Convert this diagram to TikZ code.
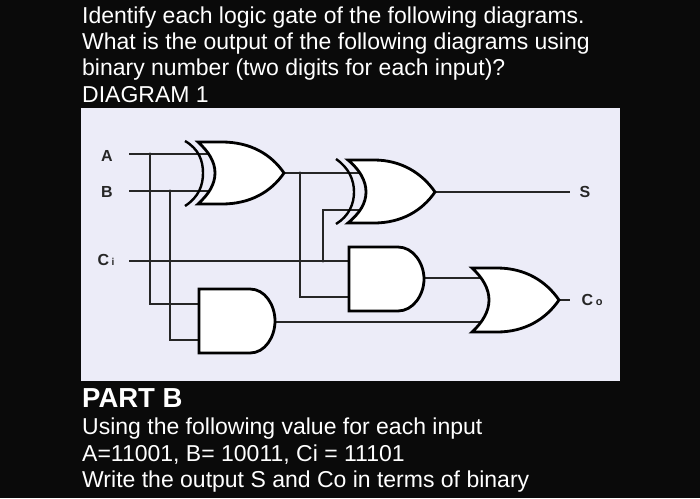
\documentclass[tikz,border=0pt]{standalone}
\usepackage{fontspec}
\setmainfont{Liberation Sans}
\definecolor{panelbg}{RGB}{236,236,248}
\definecolor{pagebg}{RGB}{10,10,10}
\begin{document}
\begin{tikzpicture}[x=1pt,y=-1pt,
  wire/.style={draw=black!85,line width=1.8pt},
  gate/.style={draw=black,fill=white,line width=2.8pt,line join=miter},
  xarc/.style={draw=black,line width=2.4pt},
  dot/.style={circle,fill=black!85,inner sep=0pt,minimum size=3.4pt},
  para/.style={anchor=base west,inner sep=0pt,text=white,font=\fontsize{23}{24}\selectfont},
  lab/.style={anchor=center,inner sep=0pt,text=black!85,font=\fontsize{16}{16}\selectfont\bfseries}]
\useasboundingbox (0,0) rectangle (700,498);
\fill[pagebg] (0,0) rectangle (700,498);
\fill[panelbg] (81,108) rectangle (620,381);
% text
\node[para] (t1) at (82,23) {Identify each logic gate of the following diagrams.};
\node[para] (t2) at (82,49) {What is the output of the following diagrams using};
\node[para] (t3) at (82,75) {binary number (two digits for each input)?};
\node[para] (t4) at (82,102) {DIAGRAM 1};
\node[para,font=\fontsize{27.5}{28}\selectfont\bfseries] (t5) at (82,407) {PART B};
\node[para] (t6) at (82,434) {Using the following value for each input};
\node[para] (t7) at (82,461) {A=11001, B= 10011, Ci = 11101};
\node[para] (t8) at (82,487) {Write the output S and Co in terms of binary};
% labels
\node[lab] (A) at (107,156) {A};
\node[lab] (B) at (107,192) {B};
\node[lab] (C) at (106,260) {C\,{\fontsize{10}{10}\selectfont i}};
\node[lab] (S) at (585,192) {S};
\node[lab] (Co) at (592,300) {C\,{\fontsize{11}{11}\selectfont o}};
% wire coordinates
\coordinate (a0) at (129,154);
\coordinate (b0) at (129,191);
\coordinate (c0) at (129,261);
\coordinate (ja) at (150,154);
\coordinate (jb) at (170,191);
\coordinate (x1a) at (208,154);
\coordinate (x1b) at (208,191);
\coordinate (x1o) at (284,173);
\coordinate (jx) at (300,173);
\coordinate (x2a) at (360,173);
\coordinate (x2b) at (360,210);
\coordinate (jc) at (323,261);
\coordinate (x2o) at (435,192);
\coordinate (sEnd) at (570,192);
\coordinate (a2a) at (349,261);
\coordinate (a2b) at (349,297);
\coordinate (a2o) at (424,278);
\coordinate (a1a) at (200,304);
\coordinate (a1b) at (200,340);
\coordinate (a1o) at (275,322);
\coordinate (o1a) at (483,278);
\coordinate (o1b) at (483,322);
\coordinate (o1o) at (559,300);
\coordinate (coEnd) at (570,300);
% wires
\draw[wire] (a0) -- (x1a);
\draw[wire] (b0) -- (x1b);
\draw[wire] (c0) -- (a2a);
\draw[wire] (ja) |- (a1a);
\draw[wire] (jb) |- (a1b);
\draw[wire] (x1o) -- (x2a);
\draw[wire] (jx) |- (a2b);
\draw[wire] (jc) |- (x2b);
\draw[wire] (x2o) -- (sEnd);
\draw[wire] (a2o) -- (o1a);
\draw[wire] (a1o) -- (o1b);
\draw[wire] (o1o) -- (coEnd);
\foreach \p in {ja,jb,jx,jc} \node[dot] at (\p) {};
% XOR 1
\draw[xarc] (185,141) .. controls (199,149) and (203,161) .. (203,173) .. controls (203,185) and (199,197) .. (185,206);
\draw[gate] (198,142) .. controls (209,152) and (215,162) .. (215,173) .. controls (215,184) and (209,194) .. (198,204) -- (222,204) .. controls (250,204) and (271,192) .. (284,173) .. controls (271,154) and (250,142) .. (222,142) -- cycle;
% XOR 2
\draw[xarc] (336,159) .. controls (349,168) and (354,180) .. (354,192) .. controls (354,204) and (349,216) .. (336,224);
\draw[gate] (348,160) .. controls (360,170) and (366,181) .. (366,192) .. controls (366,203) and (360,213) .. (348,223) -- (374,223) .. controls (401,223) and (422,211) .. (435,192) .. controls (422,173) and (401,160) .. (374,160) -- cycle;
% AND 1
\draw[gate] (199,289) -- (250,289) .. controls (265,289) and (275,305) .. (275,321) .. controls (275,337) and (265,353) .. (250,353) -- (199,353) -- cycle;
% AND 2
\draw[gate] (349,247) -- (398,247) .. controls (413,247) and (424,263) .. (424,279) .. controls (424,295) and (413,311) .. (398,311) -- (349,311) -- cycle;
% OR
\draw[gate] (472,268) .. controls (483,278) and (489,289) .. (489,300) .. controls (489,311) and (483,322) .. (472,332) -- (497,332) .. controls (525,332) and (546,319) .. (559,300) .. controls (546,281) and (525,268) .. (497,268) -- cycle;
\end{tikzpicture}
\end{document}
